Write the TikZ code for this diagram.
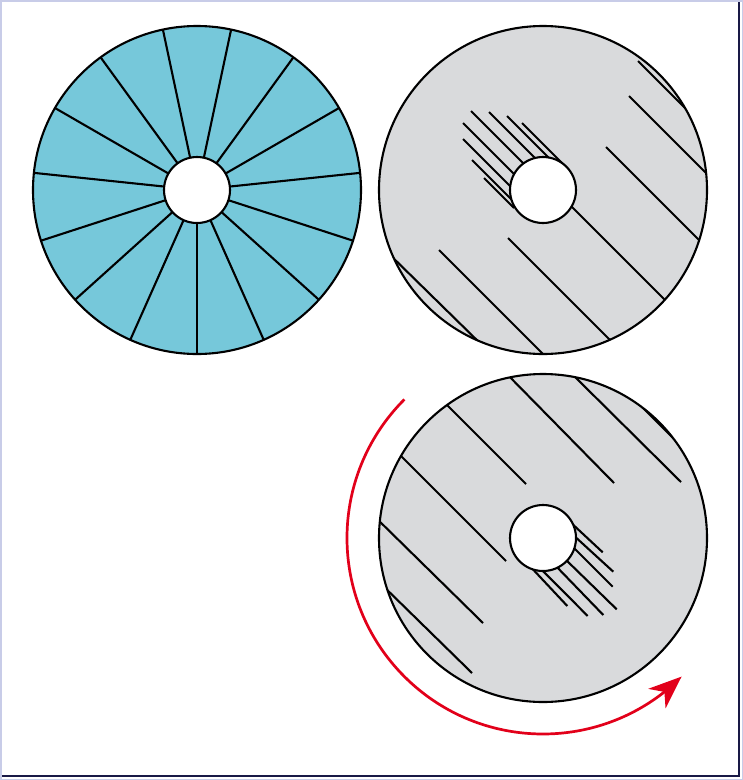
\documentclass[tikz,border=0pt]{standalone}
\usetikzlibrary{arrows.meta,bending}
\definecolor{diskblue}{RGB}{118,200,218}
\definecolor{diskgray}{RGB}{217,218,220}
\definecolor{arrowred}{RGB}{226,0,26}
\definecolor{framelav}{RGB}{200,204,232}
\definecolor{framedark}{RGB}{25,25,70}
\begin{document}
\begin{tikzpicture}[x=1pt,y=-1pt,
  hatch/.style={draw=black, line width=2.1pt},
  rim/.style={draw=black, line width=2.1pt},
  holestyle/.style={draw=black, fill=white, line width=2.1pt},
  rotarrow/.style={draw=arrowred, line width=2.7pt, -{Stealth[length=33pt,width=26pt,inset=10pt]}}]
\useasboundingbox (0,0) rectangle (743,780);
\fill[white] (0,0) rectangle (743,780);
\draw[framelav, line width=1.5pt] (0.75,0.75) rectangle (742.25,779.25);
\draw[framedark, line width=1.5pt] (739,2) -- (739,776) -- (2,776);

% ---------- disk 1 (blue, sectors) ----------
\coordinate (c1) at (197,190);
\fill[diskblue] (c1) circle (164pt);
\foreach \k in {0,...,14}{
  \draw[hatch] ([shift={(-90+24*\k:30pt)}]c1) -- ([shift={(-90+24*\k:164pt)}]c1);
}
\draw[rim] (c1) circle (164pt);
\draw[holestyle] (c1) circle (33pt);

% ---------- disk 2 (gray, top right) ----------
\coordinate (c2) at (543,190);
\fill[diskgray] (c2) circle (164pt);
\begin{scope}
  \clip (c2) circle (164pt);
  \draw[hatch] (638,61) -- (692,115);
  \draw[hatch] (629,96) -- (715,182);
  \draw[hatch] (606,147) -- (708,249);
  \draw[hatch] (570,205) -- (674,309);
  \draw[hatch] (508,238) -- (619,349);
  \draw[hatch] (439,250) -- (553,364);
  \draw[hatch] (383,248) -- (487,350);
  % streaks at the hole
  \draw[hatch] (471,111) -- (529,169);
  \draw[hatch] (489,112) -- (541,164);
  \draw[hatch] (507,116) -- (554,163);
  \draw[hatch] (522,123) -- (564,165);
  \draw[hatch] (463,123) -- (520,180);
  \draw[hatch] (463,139) -- (516,192);
  \draw[hatch] (472,160) -- (517,205);
  \draw[hatch] (484,178) -- (514,208);
\end{scope}
\draw[rim] (c2) circle (164pt);
\draw[holestyle] (c2) circle (33pt);

% ---------- disk 3 (gray, bottom right) ----------
\coordinate (c3) at (543,538);
\fill[diskgray] (c3) circle (164pt);
\begin{scope}
  \clip (c3) circle (164pt);
  \draw[hatch] (500,367) -- (614,483);
  \draw[hatch] (567,369) -- (681,482);
  \draw[hatch] (437,395) -- (526,484);
  \draw[hatch] (391,446) -- (506,561);
  \draw[hatch] (370,512) -- (483,623);
  \draw[hatch] (377,580) -- (472,673);
  \draw[hatch] (625,390) -- (685,450);
  % streaks at the hole
  \draw[hatch] (568,520) -- (602.7,552.3);
  \draw[hatch] (571,533) -- (613.3,571.7);
  \draw[hatch] (570,544) -- (612.7,586.7);
  \draw[hatch] (563,557) -- (616.7,609.3);
  \draw[hatch] (553,563) -- (603.3,615);
  \draw[hatch] (538,566) -- (587.7,616);
  \draw[hatch] (527,563) -- (567.3,606);
\end{scope}
\draw[rim] (c3) circle (164pt);
\draw[holestyle] (c3) circle (33pt);

% ---------- rotation arrow ----------
\coordinate (arcstart) at (404.4,399.4);
\draw[rotarrow] (arcstart) arc[start angle=135, end angle=315, radius=196pt];
\end{tikzpicture}
\end{document}
